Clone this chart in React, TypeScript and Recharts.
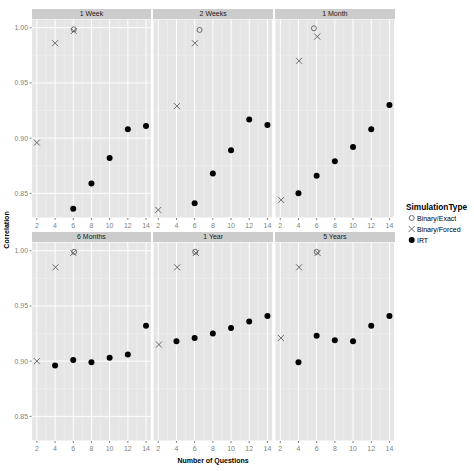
import React from 'react';
import { ScatterChart, Scatter, XAxis, YAxis, CartesianGrid, ReferenceLine } from 'recharts';

const panelTitles = ['1 Week', '2 Weeks', '1 Month', '6 Months', '1 Year', '5 Years'];
const seriesNames = ['Binary/Exact', 'Binary/Forced', 'IRT'];
const xTicks = [2, 4, 6, 8, 10, 12, 14];
const yTicks = [0.85, 0.9, 0.95, 1.0];
const xMinor = [3, 5, 7, 9, 11, 13];
const yMinor = [0.875, 0.925, 0.975];

// IRT
const irtQuestions = [4, 6, 8, 10, 12, 14];
const irt1Week = [null, 0.836, 0.859, 0.882, 0.908, 0.911];
const irt2Weeks = [null, 0.841, 0.868, 0.889, 0.917, 0.912];
const irt1Month = [0.85, 0.866, 0.879, 0.892, 0.908, 0.93];
const irt6Months = [0.896, 0.901, 0.899, 0.903, 0.906, 0.932];
const irt1Year = [0.918, 0.921, 0.925, 0.93, 0.936, 0.941];
const irt5Years = [0.899, 0.923, 0.919, 0.918, 0.932, 0.941];

// Binary/Forced (x slightly jittered as in the picture)
const forcedX1Week = [2.0, 4.0, 6.06];
const forced1Week = [0.896, 0.986, 0.997];
const forcedX2Weeks = [2.0, 4.05, 6.03];
const forced2Weeks = [0.835, 0.929, 0.986];
const forcedX1Month = [2.1, 4.07, 6.07];
const forced1Month = [0.844, 0.97, 0.992];
const forcedX6Months = [2.0, 4.05, 6.0];
const forced6Months = [0.9, 0.985, 0.998];
const forcedX1Year = [2.07, 4.08, 6.13];
const forced1Year = [0.915, 0.985, 0.998];
const forcedX5Years = [2.07, 4.07, 6.1];
const forced5Years = [0.921, 0.985, 0.998];

// Binary/Exact (one point per panel)
const exactX = [6.06, 6.54, 5.7, 6.1, 6.06, 6.0];
const exactY = [0.9985, 0.998, 0.9995, 0.999, 0.999, 0.999];

const irtByPanel = [irt1Week, irt2Weeks, irt1Month, irt6Months, irt1Year, irt5Years];
const forcedXByPanel = [forcedX1Week, forcedX2Weeks, forcedX1Month, forcedX6Months, forcedX1Year, forcedX5Years];
const forcedByPanel = [forced1Week, forced2Weeks, forced1Month, forced6Months, forced1Year, forced5Years];

const colLefts = [31.6, 153.3, 275.0];
const rowTops = [19, 242];
const panelW = 119.7;
const panelH = 199;
const xAxisH = 14;
const FONT = '"Liberation Sans", Arial, sans-serif';
const SYM = '#4D4D4D';

const DotShape = (props: any) => <circle cx={props.cx} cy={props.cy} r={3} fill="#000" />;
const OpenShape = (props: any) => (
  <circle cx={props.cx} cy={props.cy} r={2.5} fill="none" stroke={SYM} strokeWidth={0.8} />
);
const CrossShape = (props: any) => {
  const { cx, cy } = props;
  const h = 3;
  return (
    <g stroke={SYM} strokeWidth={0.8}>
      <line x1={cx - h} y1={cy - h} x2={cx + h} y2={cy + h} />
      <line x1={cx - h} y1={cy + h} x2={cx + h} y2={cy - h} />
    </g>
  );
};

function Panel({ idx }: { idx: number }) {
  const col = idx % 3;
  const row = Math.floor(idx / 3);
  const yw = col === 0 ? colLefts[0] : 0;
  const left = colLefts[col] - yw;
  const top = rowTops[row];
  const irt = irtQuestions
    .map((q, i) => ({ x: q, y: irtByPanel[idx][i] }))
    .filter((d) => d.y !== null);
  const forced = forcedXByPanel[idx].map((q, i) => ({ x: q, y: forcedByPanel[idx][i] }));
  const exact = [{ x: exactX[idx], y: exactY[idx] }];
  return (
    <>
      <div
        style={{
          position: 'absolute',
          left: colLefts[col],
          top: top - 10,
          width: panelW,
          height: 10,
          background: '#CCCCCC',
          color: '#1A1A1A',
          fontSize: 7,
          lineHeight: '10px',
          textAlign: 'center',
        }}
      >
        {panelTitles[idx]}
      </div>
      <div style={{ position: 'absolute', left, top }}>
        <ScatterChart
          width={panelW + yw}
          height={panelH + xAxisH}
          margin={{ top: 0, right: 0, bottom: 0, left: 0 }}
        >
          <CartesianGrid stroke="#FFFFFF" strokeWidth={1} fill="#E5E5E5" />
          {xMinor.map((v) => (
            <ReferenceLine key={'mx' + v} x={v} stroke="#F2F2F2" strokeWidth={0.5} />
          ))}
          {yMinor.map((v) => (
            <ReferenceLine key={'my' + v} y={v} stroke="#F2F2F2" strokeWidth={0.5} />
          ))}
          <XAxis
            dataKey="x"
            type="number"
            domain={[1.42, 14.58]}
            ticks={xTicks}
            interval={0}
            allowDataOverflow
            height={xAxisH}
            axisLine={false}
            tickLine={{ stroke: '#7F7F7F' }}
            tickSize={2}
            tickMargin={3}
            tick={{ fill: '#7F7F7F', fontSize: 7 }}
          />
          {col === 0 ? (
            <YAxis
              dataKey="y"
              type="number"
              domain={[0.8277, 1.0079]}
              ticks={yTicks}
              interval={0}
              allowDataOverflow
              width={yw}
              axisLine={false}
              tickLine={{ stroke: '#7F7F7F' }}
              tickSize={2}
              tickMargin={1.5}
              tickFormatter={(v: number) => v.toFixed(2)}
              tick={{ fill: '#7F7F7F', fontSize: 7 }}
            />
          ) : (
            <YAxis
              dataKey="y"
              type="number"
              domain={[0.8277, 1.0079]}
              ticks={yTicks}
              interval={0}
              allowDataOverflow
              width={0}
              axisLine={false}
              tickLine={false}
              tick={false}
            />
          )}
          <Scatter name={seriesNames[0]} data={exact} shape={OpenShape} isAnimationActive={false} />
          <Scatter name={seriesNames[1]} data={forced} shape={CrossShape} isAnimationActive={false} />
          <Scatter name={seriesNames[2]} data={irt} shape={DotShape} isAnimationActive={false} />
        </ScatterChart>
      </div>
    </>
  );
}

export default function App() {
  return (
    <div
      style={{
        position: 'absolute',
        left: 0,
        top: 0,
        width: 474,
        height: 471,
        background: '#FFFFFF',
        fontFamily: FONT,
        overflow: 'hidden',
      }}
    >
      {panelTitles.map((_, i) => (
        <Panel key={i} idx={i} />
      ))}
      <svg
        width={474}
        height={471}
        style={{ position: 'absolute', left: 0, top: 0, pointerEvents: 'none' }}
      >
        <text
          x={213}
          y={463.2}
          textAnchor="middle"
          fontSize={7}
          fontWeight="bold"
          fill="#000"
          fontFamily={FONT}
        >
          Number of Questions
        </text>
        <text
          transform="translate(8.5,230) rotate(-90)"
          textAnchor="middle"
          fontSize={7}
          fontWeight="bold"
          fill="#000"
          fontFamily={FONT}
        >
          Correlation
        </text>
        <text x={406} y={209.8} fontSize={8.3} fontWeight="bold" fill="#000" fontFamily={FONT}>
          SimulationType
        </text>
        {seriesNames.map((name, i) => {
          const cy = 218 + i * 11;
          const cx = 411.7;
          return (
            <g key={name}>
              {i === 0 && <OpenShape cx={cx} cy={cy} />}
              {i === 1 && <CrossShape cx={cx} cy={cy} />}
              {i === 2 && <DotShape cx={cx} cy={cy} />}
              <text x={417} y={cy + 2.5} fontSize={7} fill="#000" fontFamily={FONT}>
                {name}
              </text>
            </g>
          );
        })}
      </svg>
    </div>
  );
}
